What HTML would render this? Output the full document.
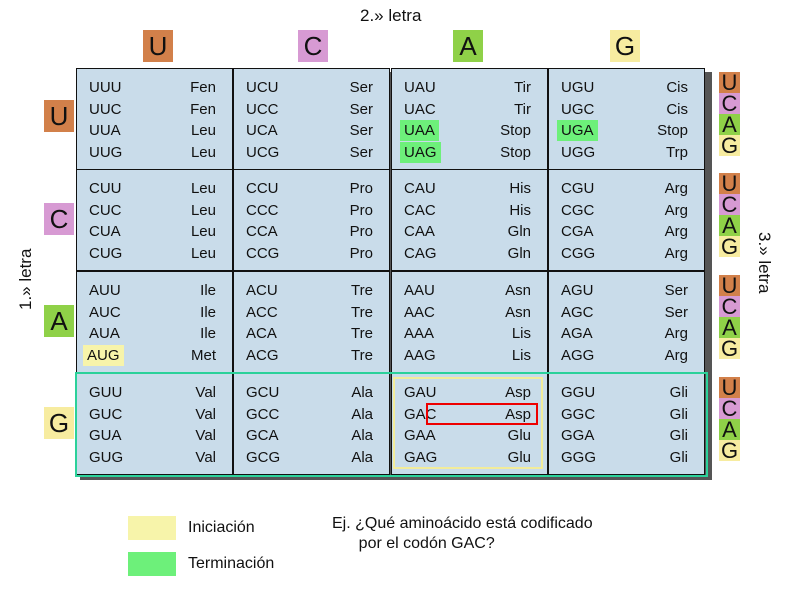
<!DOCTYPE html>
<html><head><meta charset="utf-8"><style>
body{margin:0;width:800px;height:603px;background:#fff;position:relative;overflow:hidden;font-family:"Liberation Sans",sans-serif;color:#111}
.abs{position:absolute;white-space:nowrap}
.lb{position:absolute;width:30px;height:32px;font-size:26px;line-height:32px;text-align:center}
.o{background:#d2804a}.p{background:#d79ad3}.g{background:#8fd148}.y{background:#f7eca0}
.cell{position:absolute;width:157px;height:102px;box-sizing:border-box;border:1px solid #111;background:#c9dcea}
.ln{position:absolute;left:12px;font-size:15px;height:21px;line-height:21px}
.aa{position:absolute;right:16px;font-size:15px;height:21px;line-height:21px}
.rs{position:absolute;left:719px;width:21px;font-size:22px;line-height:21px;text-align:center}
.rs div{height:21px}
</style></head><body>
<div class="abs" style="left:360px;top:6px;font-size:17px">2.» letra</div>
<div class="abs" style="left:16px;font-size:17px;transform:rotate(-90deg);transform-origin:left top;top:310px">1.» letra</div>
<div class="abs" style="left:774px;top:232px;font-size:17px;transform:rotate(90deg);transform-origin:left top">3.» letra</div>
<div class="abs" style="left:80px;top:72px;width:632px;height:408px;background:#555"></div>
<div id="grid"></div>
<div class="abs" style="left:75px;top:372px;width:629px;height:101px;border:2px solid #2bd19a"></div>
<div class="abs" style="left:393px;top:377px;width:150px;height:92px;border:2px solid #f2ec9a;box-sizing:border-box"></div>
<div class="abs" style="left:426px;top:403px;width:112px;height:22px;border:2px solid #e00;box-sizing:border-box"></div>
<div class="abs" style="left:128px;top:516px;width:48px;height:24px;background:#f7f4aa"></div>
<div class="abs" style="left:188px;top:519px;font-size:16px">Iniciación</div>
<div class="abs" style="left:128px;top:552px;width:48px;height:24px;background:#6df07a"></div>
<div class="abs" style="left:188px;top:555px;font-size:16px">Terminación</div>
<div class="abs" style="left:332px;top:514px;font-size:16px;line-height:20px">Ej. ¿Qué aminoácido está codificado<br>&nbsp;&nbsp;&nbsp;&nbsp;&nbsp;&nbsp;por el codón GAC?</div>
<script>
const bases=['U','C','A','G'];
const cls=['o','p','g','y'];
const aminos=[
['Fen','Fen','Leu','Leu','Ser','Ser','Ser','Ser','Tir','Tir','Stop','Stop','Cis','Cis','Stop','Trp'],
['Leu','Leu','Leu','Leu','Pro','Pro','Pro','Pro','His','His','Gln','Gln','Arg','Arg','Arg','Arg'],
['Ile','Ile','Ile','Met','Tre','Tre','Tre','Tre','Asn','Asn','Lis','Lis','Ser','Ser','Arg','Arg'],
['Val','Val','Val','Val','Ala','Ala','Ala','Ala','Asp','Asp','Glu','Glu','Gli','Gli','Gli','Gli']];
const colX=[76,233,391,548], rowY=[68,169,271,373];
const topX=[143,298,453,610], leftY=[100,203,305,407];
const body=document.body;
bases.forEach((b,i)=>{
 const t=document.createElement('div');t.className='lb '+cls[i];t.textContent=b;
 t.style.left=topX[i]+'px';t.style.top='30px';
 
 body.appendChild(t);
 const l=document.createElement('div');l.className='lb '+cls[i];l.textContent=b;
 l.style.left='44px';l.style.top=leftY[i]+'px';
 
 body.appendChild(l);
 const r=document.createElement('div');r.className='rs';r.style.top=(rowY[i]+4)+'px';
 
 
 bases.forEach((c,k)=>{const d=document.createElement('div');d.className=cls[k];d.textContent=c;r.appendChild(d);});
 body.appendChild(r);
});
for(let r=0;r<4;r++)for(let c=0;c<4;c++){
 const cell=document.createElement('div');cell.className='cell';
 cell.style.left=colX[c]+'px';cell.style.top=rowY[r]+'px';
 
 
 for(let k=0;k<4;k++){
  const codon=bases[r]+bases[c]+bases[k];const aa=aminos[r][c*4+k];
  const s=document.createElement('div');s.className='ln';s.textContent=codon;s.style.top=(8+k*21.5)+'px';
  if(aa==='Stop'){s.style.background='#6df07a';s.style.padding='0 4px';s.style.left='8px';}
  if(codon==='AUG'){s.style.background='#f7f4aa';s.style.padding='0 4px';s.style.left='6px';}
  
  cell.appendChild(s);
  const a=document.createElement('div');a.className='aa';a.textContent=aa;a.style.top=(8+k*21.5)+'px';
  
  cell.appendChild(a);
 }
 document.getElementById('grid').appendChild(cell);
}
</script>
</body></html>
